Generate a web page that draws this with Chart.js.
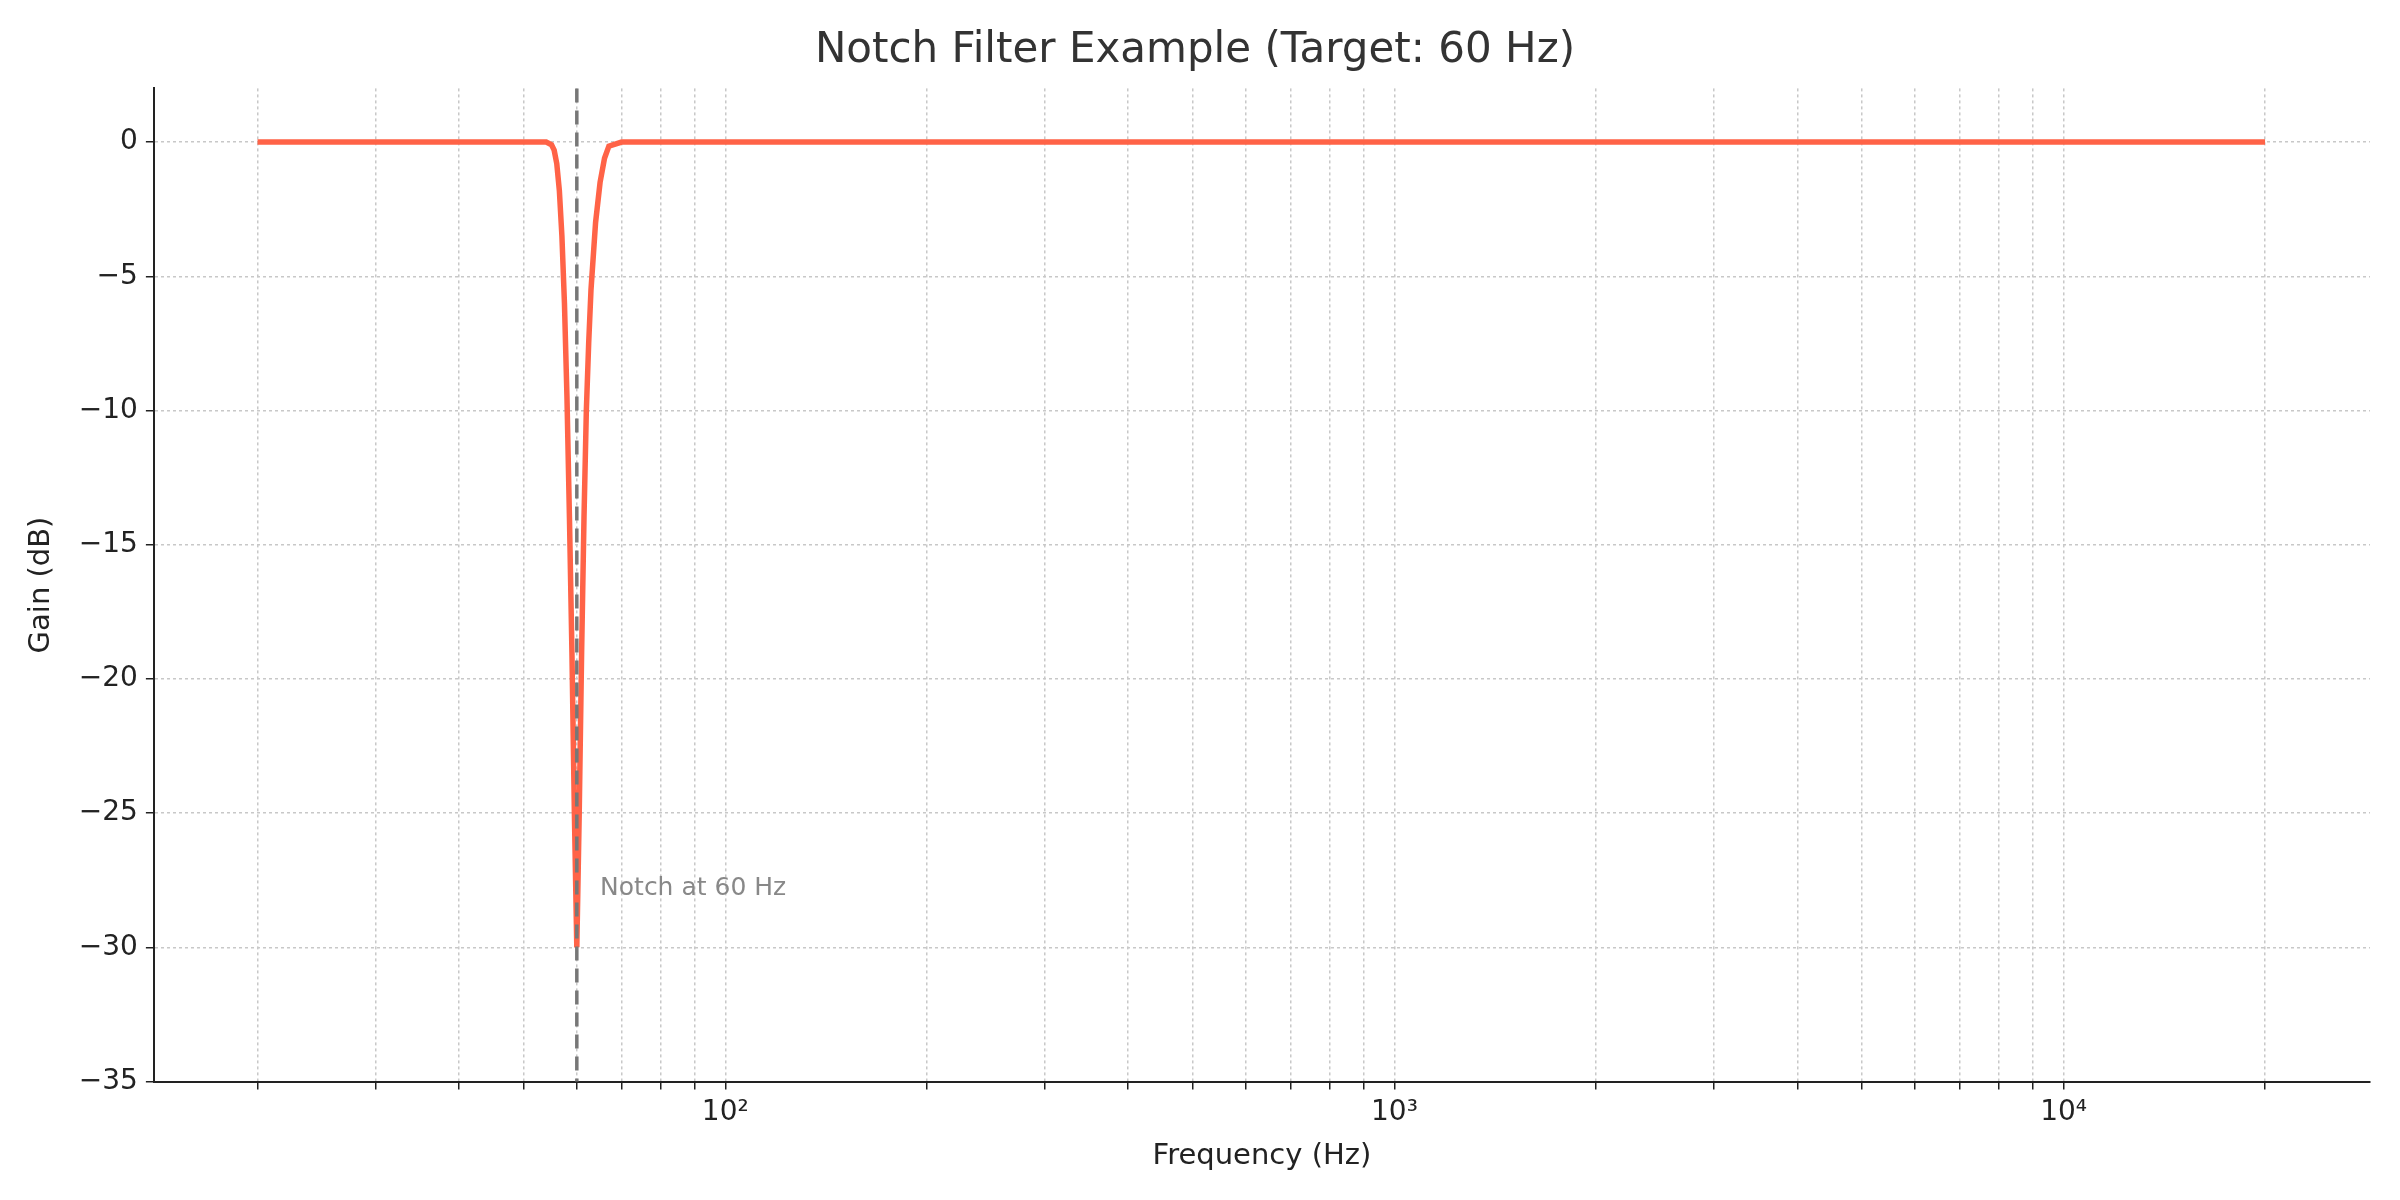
<!DOCTYPE html>
<html><head><meta charset="utf-8">
<script src="https://cdn.jsdelivr.net/npm/chart.js@4/dist/chart.umd.min.js"></script>
<style>html,body{margin:0;padding:0;background:#fff}#w{width:2400px;height:1200px}</style>
</head><body><div id="w"><canvas id="c"></canvas></div>
<script>
const freqs = [20,30,40,50,54,55,55.5,56,56.5,57,57.5,58,58.5,59,59.5,60,60.5,61,61.5,62,62.5,63,64,65,66,67,70,100,1000,10000,20000];
const gains = [0,0,0,0,0,-0.1,-0.3,-0.8,-1.8,-3.5,-6,-9.5,-14,-19,-25,-30,-25,-19,-14,-10,-7.5,-5.5,-3,-1.5,-0.6,-0.15,0,0,0,0,0];
const xTicks = [20,30,40,50,60,70,80,90,100,200,300,400,500,600,700,800,900,1000,2000,3000,4000,5000,6000,7000,8000,9000,10000,20000];
const xLabels = {100:'10²',1000:'10³',10000:'10⁴'};
const yTicks = [-35,-30,-25,-20,-15,-10,-5,0];
const notchFreq = 60;
const notchLabel = 'Notch at 60 Hz';
const F = 'DejaVu Sans';
const notch = {
  id:'notch',
  afterDatasetsDraw(ch){
    const {ctx, chartArea:a, scales:{x,y}} = ch;
    const px = x.getPixelForValue(notchFreq);
    ctx.save();
    ctx.strokeStyle='#777';ctx.lineWidth=3.5;ctx.setLineDash([14,8]);
    ctx.beginPath();ctx.moveTo(px,a.top);ctx.lineTo(px,a.bottom);ctx.stroke();
    ctx.setLineDash([]);
    ctx.fillStyle='#888';ctx.font='25px '+F;ctx.textBaseline='middle';
    ctx.fillText(notchLabel, x.getPixelForValue(65), y.getPixelForValue(-27.8));
    ctx.restore();
  }
};
new Chart(document.getElementById('c'),{
  type:'scatter',
  data:{datasets:[{data:freqs.map((f,i)=>({x:f,y:gains[i]})),showLine:true,borderColor:'#FF6347',borderWidth:5.5,pointRadius:0,tension:0}]},
  options:{
    responsive:true,maintainAspectRatio:false,animation:false,devicePixelRatio:1,
    layout:{padding:{left:20,right:30,top:0,bottom:22}},
    plugins:{legend:{display:false},tooltip:{enabled:false},
      title:{display:true,text:'Notch Filter Example (Target: 60 Hz)',color:'#333',font:{family:F,size:42,weight:'normal'},padding:{top:26,bottom:12}}},
    scales:{
      x:{type:'logarithmic',min:14,max:28700,
        afterBuildTicks(s){s.ticks=xTicks.map(v=>({value:v,major:!!xLabels[v]}));},
        ticks:{autoSkip:false,maxRotation:0,color:'#222',font:{family:F,size:28},padding:6,callback:(v)=>xLabels[v]||''},
        grid:{color:'#c8c8c8',lineWidth:1.5,tickBorderDash:[],tickColor:'#222',tickLength:8},
        border:{color:'#222',width:2,dash:[3,3]},
        title:{display:true,text:'Frequency (Hz)',color:'#222',font:{family:F,size:29},padding:{top:4}}},
      y:{min:-35,max:2,
        afterBuildTicks(s){s.ticks=yTicks.map(v=>({value:v}));},
        ticks:{color:'#222',font:{family:F,size:28},padding:8,callback:(v)=>String(v).replace('-','−')},
        grid:{color:'#c8c8c8',lineWidth:1.5,tickBorderDash:[],tickColor:'#222',tickLength:8},
        border:{color:'#222',width:2,dash:[3,3]},
        title:{display:true,text:'Gain (dB)',color:'#222',font:{family:F,size:29},padding:{bottom:12}}}
    }
  },
  plugins:[notch]
});
</script></body></html>
